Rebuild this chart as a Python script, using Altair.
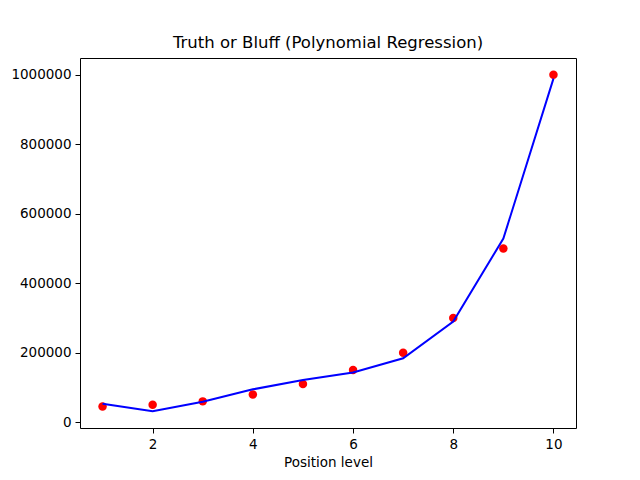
import altair as alt
import pandas as pd

# Position levels and salaries
levels = [1, 2, 3, 4, 5, 6, 7, 8, 9, 10]
salaries = [45000, 50000, 60000, 80000, 110000, 150000, 200000, 300000, 500000, 1000000]
# polynomial (degree 4) predictions
predicted = [53357, 31760, 58643, 94632, 121725, 143275, 184004, 289994, 528695, 988916]

x_ticks = [2, 4, 6, 8, 10]
y_ticks = [0, 200000, 400000, 600000, 800000, 1000000]

df = pd.DataFrame({"level": levels, "salary": salaries, "pred": predicted})

font = "DejaVu Sans"

x_enc = alt.X(
    "level:Q",
    title="Position level",
    scale=alt.Scale(domain=[0.55, 10.45], nice=False, zero=False),
    axis=alt.Axis(values=x_ticks, format="d", grid=False, domain=False,
                  tickColor="black", tickSize=5, labelFontSize=13.5, labelColor="black",
                  labelPadding=4, titleFontSize=13.5, titleFontWeight="normal",
                  titleColor="black", titlePadding=5, labelFont=font, titleFont=font),
)
y_scale = alt.Scale(domain=[-16653, 1048412], nice=False, zero=False)
y_axis = alt.Axis(values=y_ticks, format="d", grid=False, domain=False,
                  tickColor="black", tickSize=5, labelFontSize=13.5, labelColor="black",
                  labelPadding=4, titleFontSize=13.5, titleFontWeight="normal",
                  titleColor="black", titleX=-76, titleBaseline="bottom",
                  titleFont=font, labelFont=font)

points = alt.Chart(df).mark_circle(color="red", size=72, opacity=1).encode(
    x=x_enc,
    y=alt.Y("salary:Q", title="Salary", scale=y_scale, axis=y_axis),
)

line = alt.Chart(df).mark_line(color="blue", strokeWidth=2).encode(
    x="level:Q",
    y="pred:Q",
)

chart = (points + line).properties(
    width=496,
    height=370,
    title=alt.TitleParams("Truth or Bluff (Polynomial Regression)", fontSize=16.5,
                          fontWeight="normal", font=font, color="black", offset=7),
    autosize=alt.AutoSizeParams(type="none"),
    padding={"left": 72, "top": 50, "right": 56, "bottom": 45},
).configure_view(stroke="black", strokeWidth=1)

chart.save("out.html", embed_options={"renderer": "svg", "actions": False})
